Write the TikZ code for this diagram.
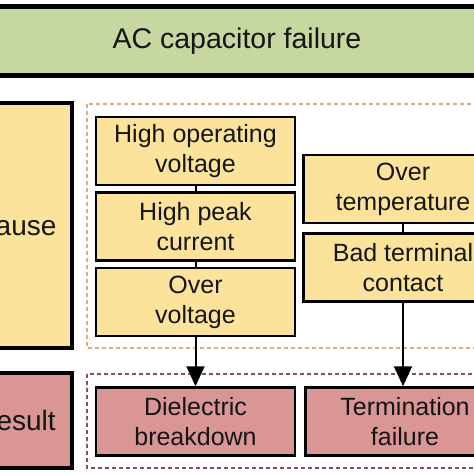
\documentclass[tikz,border=0pt]{standalone}
\usepackage{fontspec}
\setmainfont{Liberation Sans}
\usetikzlibrary{arrows.meta,positioning,backgrounds}
\definecolor{leaf}{HTML}{C6D7A0}
\definecolor{sand}{HTML}{FCE39C}
\definecolor{rose}{HTML}{D99694}
\definecolor{peach}{HTML}{EFA66E}
\definecolor{maroon}{HTML}{8C4F4F}
\definecolor{ink}{HTML}{151515}
\tikzset{
  head/.style={rectangle,draw=black,fill=leaf,line width=5pt,
               minimum width=540pt,minimum height=69pt,
               font=\fontsize{28.5}{33}\selectfont,text=ink},
  side/.style={rectangle,draw=black,fill=#1,line width=4pt,
               minimum width=112pt,align=center,
               font=\fontsize{28}{33}\selectfont,text=ink},
  cbox/.style={rectangle,draw=black,fill=#1,line width=2.5pt,
               minimum width=199pt,minimum height=68pt,align=center,
               font=\fontsize{25}{30}\selectfont,text=ink},
  link/.style={line width=2pt,color=black},
  conn/.style={-{Triangle[width=18pt,length=20pt]},line width=2pt,color=black},
  grp/.style={draw=#1,line width=1.5pt,dash pattern=on 4pt off 3pt},
}
\begin{document}
\begin{tikzpicture}[x=1pt,y=-1pt,node distance=5pt]
  \useasboundingbox (0,0) rectangle (474,474);
  \clip (0,0) rectangle (474,474);

  %% ── header ───────────────────────────────────────────────────────────────
  \node[head] (top) at (237,41) {AC capacitor failure};

  %% ── side labels ──────────────────────────────────────────────────────────
  \node[side=sand,minimum height=245pt] (cause)  at (16,225.5) {Cause};
  \node[side=rose,minimum height=95pt]  (result) at (16,420.5) {Result};

  %% ── causes ───────────────────────────────────────────────────────────────
  \node[cbox=sand] (hov) at (195.5,151) {High operating\\voltage};
  \node[cbox=sand,below=of hov] (hpc) {High peak\\current};
  \node[cbox=sand,below=of hpc] (ovv) {Over\\voltage};
  \node[cbox=sand] (ovt) at (403,189) {Over\\temperature};
  \node[cbox=sand,below=8pt of ovt] (btc) {Bad terminal\\contact};

  %% ── results ──────────────────────────────────────────────────────────────
  \node[cbox=rose] (dlb) at (195.5,421.5) {Dielectric\\breakdown};
  \node[cbox=rose] (tmf) at (405,421.5)   {Termination\\failure};

  %% ── arrows ───────────────────────────────────────────────────────────────
  \draw[link] (hov) -- (hpc);
  \draw[link] (hpc) -- (ovv);
  \draw[link] (ovt) -- (btc);
  \draw[conn] (ovv) -- (dlb);
  \draw[conn] (btc.south) -- (btc.south |- tmf.north);

  %% ── groups ───────────────────────────────────────────────────────────────
  \begin{scope}[on background layer]
    \draw[grp=peach]  (87,104) rectangle (490,348);
    \draw[grp=maroon] (87,374) rectangle (490,468);
  \end{scope}

\end{tikzpicture}
\end{document}
